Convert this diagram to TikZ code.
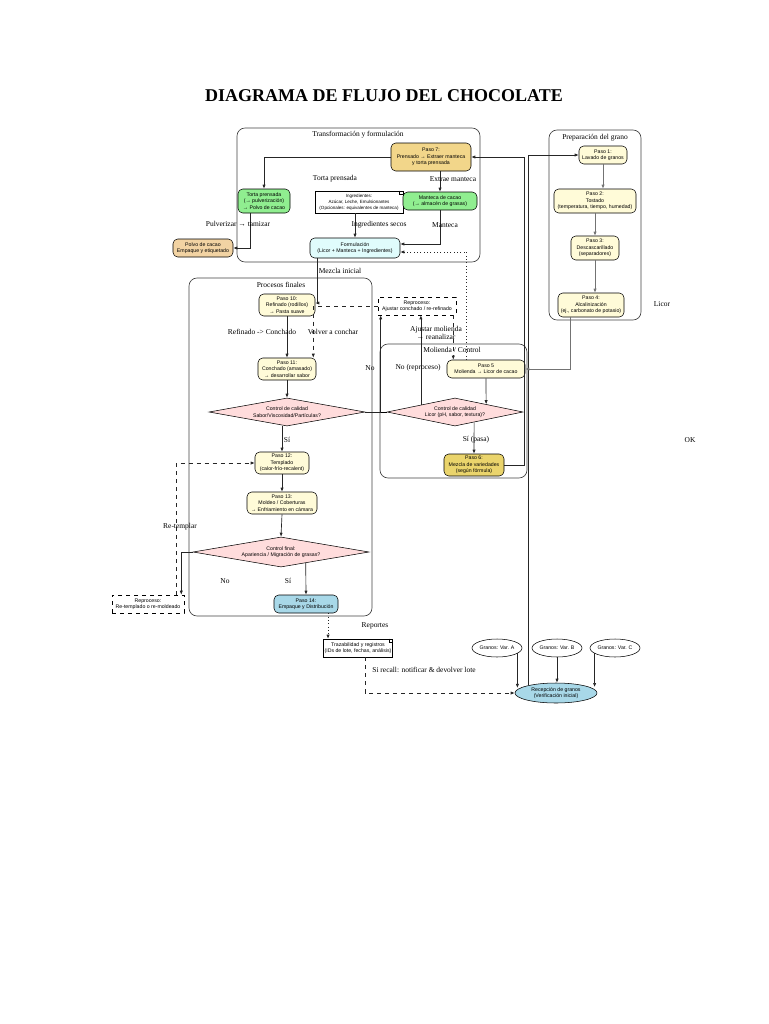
\documentclass[tikz,border=0pt]{standalone}
\usepackage{fontspec}
\setmainfont{Liberation Serif}
\newfontfamily\boxfont{Liberation Sans}
\usetikzlibrary{shapes.geometric,arrows.meta,calc}

\definecolor{stepfill}{HTML}{FFFBD8}
\definecolor{goldfill}{HTML}{F2D68A}
\definecolor{mixfill}{HTML}{EAD46C}
\definecolor{greenfill}{HTML}{90EE90}
\definecolor{tanfill}{HTML}{F2D3A3}
\definecolor{cyanfill}{HTML}{E0FCFC}
\definecolor{pinkfill}{HTML}{FFDCDC}
\definecolor{bluefill}{HTML}{A8D8E8}

\tikzset{
  boxtext/.style={font=\boxfont\fontsize{3.9}{4.8}\selectfont, align=center},
  stepbox/.style={boxtext, draw, rounded corners=3.5pt, inner sep=1pt, fill=stepfill},
  redobox/.style={boxtext, draw, dashed, inner sep=1pt, fill=white},
  notebox/.style={boxtext, draw, inner sep=1pt, fill=white},
  checkbox/.style={boxtext, draw, diamond, shape aspect=5.5, inner sep=0pt, fill=pinkfill},
  grainbox/.style={boxtext, draw, ellipse, inner sep=0pt, fill=white},
  cluster/.style={draw=black!75, rounded corners=6pt, line width=0.5pt},
  lbl/.style={font=\fontsize{5.6}{6.6}\selectfont, align=center, inner sep=0pt},
  arr/.style={-{Latex[length=3pt,width=2.4pt]}, line width=0.5pt, black!85}
}

\begin{document}
\begin{tikzpicture}[x=0.75pt,y=-0.75pt]
        \useasboundingbox (0,0) rectangle (768,1024);
        % Title
        \node[font=\bfseries\fontsize{13.5}{16}\selectfont] (title) at (384,96) {DIAGRAMA DE FLUJO DEL CHOCOLATE};
        % Draw the clusters
        \draw[cluster] (237,128) rectangle (480,262);
        \node[lbl] (ctrans) at (358,135) {Transformación y formulación};
        \draw[cluster] (549,130) rectangle (641,320);
        \node[lbl] (cprep) at (595,138) {Preparación del grano};
        \draw[cluster] (189,278) rectangle (372,616);
        \node[lbl] (cfin) at (281,285) {Procesos finales};
        \draw[cluster] (380,344) rectangle (527,478);
        \node[lbl] (cmol) at (452,350) {Molienda / Control};
        % Draw the nodes
        \node[stepbox, fill=goldfill, minimum width=60pt, minimum height=21pt] (p7) at (431,157) {Paso 7:\\Prensado → Extraer manteca\\y torta prensada};
        \node[stepbox, fill=greenfill, minimum width=39pt, minimum height=18pt] (tp) at (264,201) {Torta prensada\\(→ pulverización)\\→ Polvo de cacao};
        \node[notebox, font=\boxfont\fontsize{3.4}{4.6}\selectfont, minimum width=66pt, minimum height=16.5pt] (ing) at (359,202) {Ingredientes:\\Azúcar, Leche, Emulsionantes\\(Opcionales: equivalentes de manteca)};
        \draw ($(ing.north east)+(-4,0)$) -- ++(0,4) -- ++(4,0);
        \node[stepbox, fill=greenfill, minimum width=55.5pt, minimum height=13.5pt] (mc) at (440,201) {Manteca de cacao\\(→ almacén de grasas)};
        \node[stepbox, fill=tanfill, minimum width=45pt, minimum height=13.5pt] (pc) at (203,248) {Polvo de cacao\\Empaque y etiquetado};
        \node[stepbox, fill=cyanfill, minimum width=67.5pt, minimum height=15pt] (fm) at (355,248) {Formulación\\(Licor + Manteca + Ingredientes)};
        \node[stepbox, minimum width=36pt, minimum height=13.5pt] (p1) at (603,155) {Paso 1:\\Lavado de granos};
        \node[stepbox, minimum width=61.5pt, minimum height=18pt] (p2) at (595,201) {Paso 2:\\Tostado\\(temperatura, tiempo, humedad)};
        \node[stepbox, minimum width=36pt, minimum height=18pt] (p3) at (595,248) {Paso 3:\\Descascarillado\\(separadores)};
        \node[stepbox, minimum width=49.5pt, minimum height=18pt] (p4) at (591,305) {Paso 4:\\Alcalinización\\(ej., carbonato de potasio)};
        \node[stepbox, minimum width=42pt, minimum height=16.5pt] (p10) at (287,305) {Paso 10:\\Refinado (rodillos)\\→ Pasta suave};
        \node[redobox, minimum width=58.5pt, minimum height=13.5pt] (rp1) at (417,306) {Reproceso:\\Ajustar conchado / re-refinado};
        \node[stepbox, minimum width=43.5pt, minimum height=16.5pt] (p11) at (287,369) {Paso 11:\\Conchado (amasado)\\→ desarrollar sabor};
        \node[stepbox, minimum width=58.5pt, minimum height=13.5pt] (p5) at (486,369) {Paso 5\\Molienda → Licor de cacao};
        \node[checkbox, minimum width=117pt, minimum height=21pt] (cs) at (287,412) {Control de calidad\\Sabor/Viscosidad/Partículas?};
        \node[checkbox, minimum width=102pt, minimum height=21pt] (cl) at (455,412) {Control de calidad\\Licor (pH, sabor, textura)?};
        \node[stepbox, fill=mixfill, minimum width=45pt, minimum height=16.5pt] (p6) at (474,465) {Paso 6:\\Mezcla de variedades\\(según fórmula)};
        \node[stepbox, minimum width=40.5pt, minimum height=16.5pt] (p12) at (282,463) {Paso 12:\\Templado\\(calor-frío-recalent)};
        \node[stepbox, minimum width=52.5pt, minimum height=16.5pt] (p13) at (282,503) {Paso 13:\\Moldeo / Coberturas\\→ Enfriamiento en cámara};
        \node[checkbox, minimum width=132pt, minimum height=22.5pt] (cf) at (281,552) {Control final:\\Apariencia / Migración de grasas?};
        \node[redobox, minimum width=54pt, minimum height=13.5pt] (rp2) at (148,604) {Reproceso:\\Re-templado o re-moldeado};
        \node[stepbox, fill=bluefill, minimum width=48pt, minimum height=13.5pt] (p14) at (306,604) {Paso 14:\\Empaque y Distribución};
        \node[notebox, minimum width=45pt, minimum height=13.5pt] (tz) at (358,648) {Trazabilidad y registros\\(IDs de lote, fechas, análisis)};
        \draw ($(tz.north east)+(-4,0)$) -- ++(0,4) -- ++(4,0);
        \node[grainbox, minimum width=37.5pt, minimum height=13.5pt] (varA) at (497,648) {Granos: Var. A};
        \node[grainbox, minimum width=37.5pt, minimum height=13.5pt] (varB) at (557,648) {Granos: Var. B};
        \node[grainbox, minimum width=37.5pt, minimum height=13.5pt] (varC) at (615,648) {Granos: Var. C};
        \node[grainbox, fill=bluefill, minimum width=61.5pt, minimum height=15pt] (recv) at (556,693) {Recepción de granos\\(Verificación inicial)};
        % Draw the connectors: grain preparation
        \draw[arr] (varA.-15) -- (varA.-15 |- recv.172);
        \draw[arr] (varB.south) -- (varB.south |- recv.north);
        \draw[arr] (varC.195) -- (varC.195 |- recv.10);
        \draw[arr] (recv.165) |- (p1.west);
        \draw[arr, black!55] (p1.south) -- (p1.south |- p2.north);
        \draw[arr, black!55] (p2.south) -- (p3.north);
        \draw[arr, black!55] (p3.south) -- (p3.south |- p4.north);
        \coordinate (lqa) at ($(p4.south)+(-21,0)$);
        \draw[arr, black!55] (lqa) |- (p5.east);
        % Molienda and control
        \coordinate (clin) at ($(cl.north)!0.456!(cl.east)$);
        \coordinate (clout) at ($(cl.south)!0.28!(cl.east)$);
        \draw[arr] (p5.south) -- (clin);
        \draw[arr] (clout) -- (p6.north);
        \draw[arr] (cl.north west) -- (cl.north west |- rp1.south);
        \coordinate (rpA) at ($(rp1.south east)+(-3,0)$);
        \draw[arr, dashed] (rpA) -- (rpA |- p5.north);
        \coordinate (lqb) at ($(p5.north west)+(20,0)$);
        \draw[arr, dotted] (lqb) |- ($(fm.east)+(0,4)$);
        \draw[arr] (p6.east) -- ++(20,0) |- (p7.east);
        % Transformation
        \draw[arr] (p7.west) -| (tp.north);
        \draw[arr] (p7.south -| mc.north) -- (mc.north);
        \coordinate (tpv) at ($(tp.south)+(-14,0)$);
        \draw[arr] (tpv) |- (pc.east);
        \draw[arr] (ing.south -| fm.north) -- (fm.north);
        \draw[arr] (mc.south) |- ($(fm.east)+(0,-4)$);
        % Final processes
        \coordinate (fmv) at ($(fm.south west)+(8,0)$);
        \draw[arr] (fmv) |- ($(p10.east)+(0,-2)$);
        \draw[arr] (p10.south) -- (p11.north);
        \coordinate (vc) at ($(p11.north east)+(-3,0)$);
        \draw[arr, dashed] (rp1.west) -| (vc);
        \draw[arr] (p11.south) -- (cs.north);
        \coordinate (rpB) at ($(rp1.south west)+(3,0)$);
        \draw[arr] (cs.east) -| (rpB);
        \draw (cl.west) -- (cl.west -| rpB);
        \draw[arr] (cs.south -| p12.north) -- (p12.north);
        \draw[arr] (p12.south) -- (p13.north);
        \draw[arr] (p13.south) -- (cf.north);
        \coordinate (cfout) at ($(cf.south)!0.28!(cf.east)$);
        \draw[arr] (cfout) -- (p14.north);
        \coordinate (rtA) at ($(rp2.north east)+(-3,0)$);
        \draw[arr] (cf.west) -| (rtA);
        \coordinate (rtB) at ($(rp2.north east)+(-8,0)$);
        \draw[arr, dashed] (rtB) |- (p12.west);
        \coordinate (rpt) at ($(tz.north west)+(5,0)$);
        \draw[arr, dotted] (rpt |- p14.south) -- (rpt);
        \coordinate (rc) at ($(tz.south)+(7,0)$);
        \draw[arr, dashed] (rc) |- (recv.west);
        % Label the connectors
        \node[lbl] at (335,179) {Torta prensada};
        \node[lbl] at (453,179) {Extrae manteca};
        \node[lbl] at (238,224) {Pulverizar → tamizar};
        \node[lbl] at (379,225) {Ingredientes secos};
        \node[lbl] at (445,225) {Manteca};
        \node[lbl] at (340,271) {Mezcla inicial};
        \node[lbl] at (662,304) {Licor};
        \node[lbl] at (262,332) {Refinado -> Conchado};
        \node[lbl] at (333,332) {Volver a conchar};
        \node[lbl] at (436,333) {Ajustar molienda\\→ reanalizar};
        \node[lbl] at (370,368) {No};
        \node[lbl] at (418,368) {No (reproceso)};
        \node[lbl] at (287,440) {Sí};
        \node[lbl] at (476,440) {Sí (pasa)};
        \node[lbl] at (690,440) {OK};
        \node[lbl] at (180,527) {Re-templar};
        \node[lbl] at (225,581) {No};
        \node[lbl] at (288,581) {Sí};
        \node[lbl] at (375,626) {Reportes};
        \node[lbl] at (424,670) {Si recall: notificar \& devolver lote};
\end{tikzpicture}
\end{document}
